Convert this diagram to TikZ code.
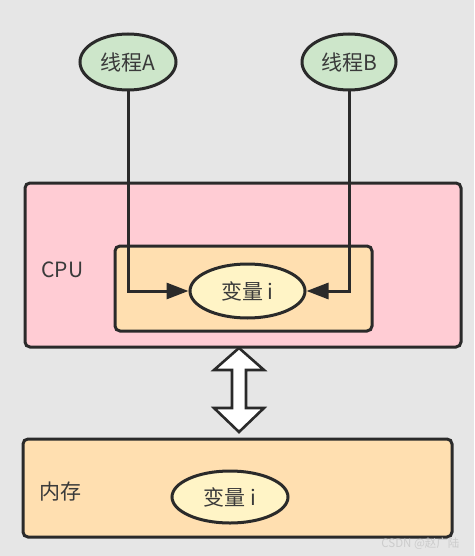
\documentclass[tikz,border=0pt]{standalone}
\usepackage{fontspec}
\setmainfont{Noto Sans CJK SC}
\usetikzlibrary{arrows.meta,shapes.geometric,calc}
\definecolor{bg}{HTML}{E6E6E6}
\definecolor{edge}{HTML}{2A2A2A}
\definecolor{thread}{HTML}{CDE6CA}
\definecolor{cpu}{HTML}{FFCCD4}
\definecolor{peach}{HTML}{FFDFB0}
\definecolor{varfill}{HTML}{FFF4C6}
\definecolor{txt}{HTML}{3A3A3A}
\tikzset{
  box/.style={draw=edge, line width=3pt, rounded corners=5pt},
  oval/.style={ellipse, draw=edge, line width=3pt, inner sep=0pt, font=\fontsize{21}{21}\selectfont, text=txt},
  link/.style={draw=edge, line width=3pt, -{Triangle[length=22pt,width=16pt]}},
  lbl/.style={font=\fontsize{21}{21}\selectfont, text=txt}
}
\begin{document}
\begin{tikzpicture}[x=1pt,y=-1pt]
\fill[bg] (0,0) rectangle (474,556);
\useasboundingbox (0,0) rectangle (474,556);
% CPU box
\node[box, fill=cpu, minimum width=436pt, minimum height=164pt] (cpu) at (243,265) {};
\node[lbl, anchor=west] (cpulbl) at (38,270) {CPU};
\node[box, fill=peach, minimum width=257pt, minimum height=85pt] (cache) at (243.5,288.5) {};
\node[oval, fill=varfill, minimum width=115pt, minimum height=54pt] (vcpu) at (247.5,291) {变量 i};
% threads
\node[oval, fill=thread, minimum width=96pt, minimum height=56pt] (ta) at (128,62) {线程A};
\node[oval, fill=thread, minimum width=94pt, minimum height=56pt] (tb) at (349,62) {线程B};
\draw[link] (ta.south) |- (vcpu.west);
\draw[link] (tb.south) |- (vcpu.east);
% memory
\node[box, fill=peach, minimum width=429pt, minimum height=98pt] (mem) at (237.5,488) {};
\node[lbl, anchor=west] (memlbl) at (36,492) {内存};
\node[oval, fill=varfill, minimum width=116pt, minimum height=52pt] (vmem) at (230,497) {变量 i};
% double arrow
\coordinate (c) at (239,390);
\draw[edge, line width=2.6pt, fill=white, line join=miter]
  ($(c)+(0,-42)$) -- ($(c)+(25,-20)$) -- ($(c)+(7,-20)$) -- ($(c)+(7,18)$) -- ($(c)+(25,18)$)
  -- ($(c)+(0,42)$) -- ($(c)+(-25,18)$) -- ($(c)+(-7,18)$) -- ($(c)+(-7,-20)$) -- ($(c)+(-25,-20)$) -- cycle;
% watermark
\node[anchor=east, text=white!60!gray, font=\fontsize{11.5}{11.5}\selectfont] (wm) at (463,544) {CSDN @赵广陆};
\end{tikzpicture}
\end{document}
